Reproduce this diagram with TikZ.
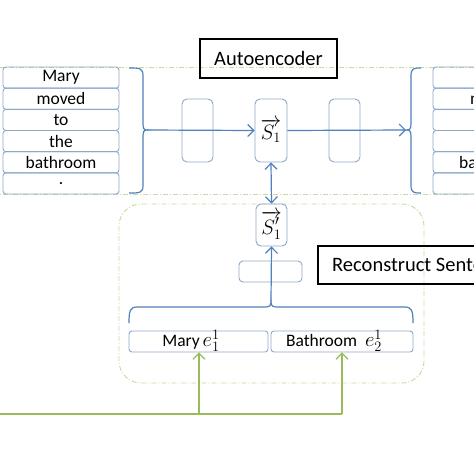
\documentclass[tikz,border=0pt]{standalone}
\usepackage{fontspec}
\setmainfont{Carlito}
\usetikzlibrary{arrows.meta}
\definecolor{bbord}{HTML}{8EA9C8}
\definecolor{barrow}{HTML}{4F81BD}
\definecolor{gdash}{HTML}{C9D9A4}
\definecolor{garrow}{HTML}{9BBB59}
\tikzset{
  wbox/.style={draw=bbord, line width=0.9pt, rounded corners=3pt},
  vbox/.style={draw=bbord, line width=0.9pt, rounded corners=5pt},
  blueline/.style={draw=barrow, line width=1.2pt},
  bluearrow/.style={blueline, -{Straight Barb[length=6pt,width=12pt]}},
  greenarrow/.style={draw=garrow, line width=1.2pt, -{Straight Barb[length=6pt,width=12pt]}},
  region/.style={draw=gdash, line width=0.9pt, dash pattern=on 5pt off 2pt on 1pt off 2pt},
  titlebox/.style={draw=black, line width=1.1pt, inner sep=0pt},
  wtext/.style={font=\fontsize{17.5}{18}\selectfont},
  vtext/.style={font=\fontsize{21}{22}\selectfont}
}
\newcommand{\emath}[1]{{\fontsize{21}{22}\selectfont$#1$}}
\begin{document}
\begin{tikzpicture}[x=1pt,y=-1pt]
\useasboundingbox (0,0) rectangle (474,474);
\clip (0,0) rectangle (474,474);
\fill[white] (0,0) rectangle (474,474);
% regions
\draw[region] (-10,67) rectangle (490,194);
\draw[region, rounded corners=22pt] (119,204) rectangle (424,383);
% word boxes
\foreach \w [count=\i] in {Mary,moved,to,the,bathroom,.}{
  \pgfmathsetmacro{\ya}{67+(\i-1)*21.17}
  \pgfmathsetmacro{\yb}{67+\i*21.17}
  \draw[wbox] (3,\ya) rectangle (119,\yb);
  \node[wtext] (l\i) at (61,{(\ya+\yb)/2}) {\w};
  \draw[wbox] (433,\ya) rectangle (555,\yb);
  \node[wtext] (r\i) at (494.5,{(\ya+\yb)/2}) {\w};
}
% title boxes
\node[titlebox, minimum width=137pt, minimum height=39pt, font=\fontsize{20.5}{22}\selectfont] (ae) at (268.5,58.5) {Autoencoder};
\node[titlebox, minimum width=190pt, minimum height=38pt] (rs) at (413,265) {};
\node[font=\fontsize{20.5}{22}\selectfont, anchor=west, inner sep=0pt] (rst) at (332,265) {Reconstruct Sentence};
% vector boxes
\node[vbox, minimum width=31pt, minimum height=63pt] (b1) at (197.5,130.5) {};
\node[vbox, minimum width=32pt, minimum height=63pt, vtext, inner sep=0pt] (s1) at (271,130.5) {$\overrightarrow{S_1}$};
\node[vbox, minimum width=31pt, minimum height=63pt] (b3) at (344.5,130.5) {};
\node[vbox, minimum width=31pt, minimum height=42pt, vtext, inner sep=0pt] (s1p) at (271.5,225) {$\overrightarrow{S'_1}$};
\node[vbox, rounded corners=4pt, minimum width=63pt, minimum height=21pt] (bs) at (270.5,271.5) {};
% entity boxes
\node[wbox, minimum width=139pt, minimum height=21pt] (m) at (198.5,341.5) {};
\node[wtext, inner sep=0pt] (mt) at (191,341) {Mary\,\emath{e^1_1}};
\node[wbox, minimum width=142pt, minimum height=21pt] (bt) at (342,341.5) {};
\node[wtext, inner sep=0pt] (btt) at (334,341) {Bathroom~ \emath{e^1_2}};
% left brace
\coordinate (lt) at (147,130);
\draw[blueline] (129,68) .. controls (140,68) and (143,68) .. (143,76) -- (143,123) .. controls (143,129) and (144,130) .. (lt)
  .. controls (144,130) and (143,131) .. (143,137) -- (143,185) .. controls (143,193) and (140,193) .. (129,193);
\draw[bluearrow] (lt) -- (s1.west);
% right brace
\coordinate (rt) at (406,130);
\draw[blueline] (421,68) .. controls (414,68) and (411,68) .. (411,76) -- (411,123) .. controls (411,129) and (410,130) .. (rt)
  .. controls (410,130) and (411,131) .. (411,137) -- (411,185) .. controls (411,193) and (414,193) .. (421,193);
\draw[bluearrow] (s1.east) -- (rt);
% double arrow
\draw[blueline, {Straight Barb[length=6pt,width=12pt]}-{Straight Barb[length=6pt,width=12pt]}] (s1.south) -- (s1p.north);
% bottom brace
\coordinate (bt0) at (271,302);
\draw[blueline] (129,323) .. controls (129,311) and (130,307) .. (137,307) -- (265,307) .. controls (269,307) and (271,306) .. (bt0)
  .. controls (271,306) and (273,307) .. (277,307) -- (405,307) .. controls (412,307) and (413,311) .. (413,323);
\draw[bluearrow] (bt0) -- (s1p.south);
% green arrows
\coordinate (g0) at (0,414);
\coordinate (g1) at (199,414);
\coordinate (g2) at (342,414);
\draw[draw=garrow, line width=1.2pt] (g0) -- (g2);
\draw[greenarrow] (g1) -- (g1 |- m.south);
\draw[greenarrow] (g2) -- (g2 |- bt.south);
\end{tikzpicture}
\end{document}
